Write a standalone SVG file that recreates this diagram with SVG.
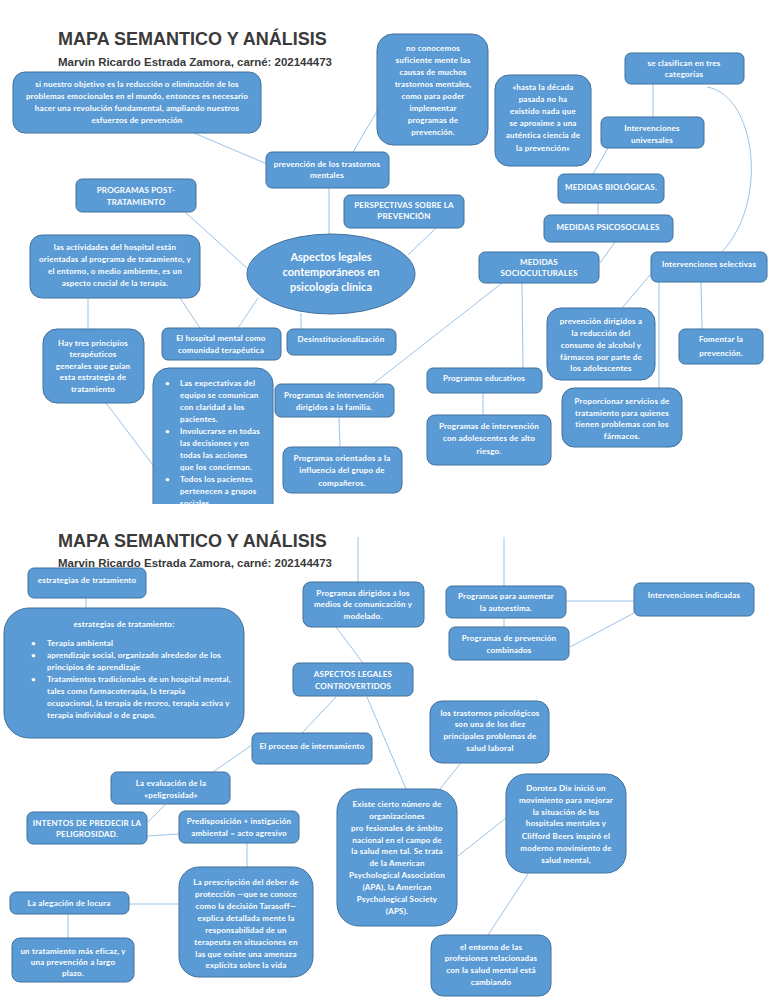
<svg xmlns="http://www.w3.org/2000/svg" width="768" height="1006" viewBox="0 0 768 1006">
<style>
.bg{fill:#fff}
.h1{font-family:"Liberation Sans",Arial,sans-serif;font-weight:700;font-size:18px;fill:#3a3a3a}
.h2{font-family:"Liberation Sans",Arial,sans-serif;font-weight:700;font-size:11.5px;fill:#3a3a3a}
.nd rect,.nd ellipse{fill:#5B9BD5;stroke:#41719C;stroke-width:1}
.nd text{font-family:Lato,"Liberation Sans",sans-serif;font-weight:700;font-size:8px;letter-spacing:0.2px;fill:#fff;text-anchor:middle}
.nd text.l{text-anchor:start}
.nd text.big{font-size:11px;letter-spacing:0}
.cn line,.cn path{stroke:#9DC3E6;stroke-width:1;fill:none}
</style>
<defs>
<clipPath id="pg1"><rect x="0" y="0" width="768" height="504"/></clipPath>
</defs>
<rect class="bg" x="0" y="0" width="768" height="1006"/>
<text class="h1" x="58" y="45">MAPA SEMANTICO Y ANÁLISIS</text>
<text class="h2" x="58" y="66" textLength="274" lengthAdjust="spacingAndGlyphs">Marvin Ricardo Estrada Zamora, carné: 202144473</text>
<text class="h1" x="58" y="547">MAPA SEMANTICO Y ANÁLISIS</text>
<text class="h2" x="58" y="567" textLength="274" lengthAdjust="spacingAndGlyphs">Marvin Ricardo Estrada Zamora, carné: 202144473</text>

<g id="connectors" class="cn">
<line x1="194" y1="133" x2="267" y2="164"/>
<line x1="380" y1="106" x2="353" y2="152"/>
<line x1="329" y1="188" x2="329" y2="234"/>
<line x1="436" y1="228" x2="408" y2="255"/>
<line x1="185" y1="212" x2="248" y2="269"/>
<line x1="180" y1="298" x2="200" y2="328"/>
<line x1="238" y1="328" x2="258" y2="298"/>
<line x1="301" y1="313" x2="301" y2="329"/>
<line x1="88" y1="298" x2="88" y2="329"/>
<line x1="106" y1="403" x2="153" y2="465"/>
<line x1="373" y1="384" x2="502" y2="283"/>
<line x1="339" y1="417" x2="340" y2="447"/>
<line x1="522" y1="283" x2="523" y2="368"/>
<line x1="483" y1="393" x2="483" y2="415"/>
<line x1="615" y1="242" x2="600" y2="263"/>
<line x1="598" y1="203" x2="598" y2="215"/>
<line x1="608" y1="148" x2="593" y2="174"/>
<line x1="653" y1="84" x2="653" y2="117"/>
<path d="M707,87 C755,95 770,200 722,252"/>
<line x1="650" y1="275" x2="622" y2="308"/>
<line x1="659" y1="282" x2="659" y2="388"/>
<line x1="701" y1="282" x2="702" y2="329"/>
<line x1="86" y1="598" x2="86" y2="608"/>
<line x1="358" y1="537" x2="358" y2="582"/>
<line x1="504" y1="537" x2="504" y2="586"/>
<line x1="504" y1="618" x2="504" y2="627"/>
<line x1="566" y1="601" x2="634" y2="601"/>
<line x1="570" y1="647" x2="634" y2="613"/>
<line x1="336" y1="627" x2="363" y2="663"/>
<line x1="336" y1="697" x2="302" y2="733"/>
<line x1="367" y1="697" x2="406" y2="789"/>
<line x1="252" y1="745" x2="213" y2="772"/>
<line x1="165" y1="805" x2="148" y2="822"/>
<line x1="147" y1="836" x2="179" y2="834"/>
<line x1="247" y1="843" x2="247" y2="867"/>
<line x1="129" y1="904" x2="179" y2="904"/>
<line x1="68" y1="914" x2="68" y2="938"/>
<line x1="460" y1="764" x2="440" y2="789"/>
<line x1="458" y1="856" x2="506" y2="818"/>
<line x1="528" y1="874" x2="488" y2="935"/>
</g>

<g id="n-objetivo" class="nd"><rect x="13" y="72" width="248" height="61" rx="12"/>
<text x="137" y="86.5">si nuestro objetivo es la reducción o eliminación de los</text>
<text x="137" y="98.5">problemas emocionales en el mundo, entonces es necesario</text>
<text x="137" y="110.5">hacer una revolución fundamental, ampliando nuestros</text>
<text x="137" y="122.5">esfuerzos de prevención</text></g>

<g id="n-noconocemos" class="nd"><rect x="377" y="34" width="111" height="111" rx="16"/>
<text x="433" y="50.5">no conocemos</text>
<text x="433" y="62.5">suficiente  mente las</text>
<text x="433" y="74.5">causas de muchos</text>
<text x="433" y="86.5">trastornos mentales,</text>
<text x="433" y="98.5">como para poder</text>
<text x="433" y="110.5">implementar</text>
<text x="433" y="122.5">programas de</text>
<text x="433" y="134.5">prevención.</text></g>

<g id="n-hasta" class="nd"><rect x="495" y="75" width="96" height="91" rx="14"/>
<text x="543" y="89.5">«hasta la década</text>
<text x="543" y="101.5">pasada no ha</text>
<text x="543" y="113.5">existido nada que</text>
<text x="543" y="125.5">se aproxime a una</text>
<text x="543" y="138">auténtica ciencia de</text>
<text x="543" y="150.5">la prevención»</text></g>

<g id="n-clasifican" class="nd"><rect x="625" y="53" width="119" height="31" rx="6"/>
<text x="684" y="65.5">se clasifican en tres</text>
<text x="684" y="76.5">categorías</text></g>

<g id="n-universales" class="nd"><rect x="601" y="117" width="103" height="31" rx="6"/>
<text x="652" y="130.5">Intervenciones</text>
<text x="652" y="142.5">universales</text></g>

<g id="n-biologicas" class="nd"><rect x="558" y="174" width="106" height="29" rx="6"/>
<text x="611" y="189.5">MEDIDAS BIOLÓGICAS.</text></g>

<g id="n-psicosociales" class="nd"><rect x="544" y="215" width="129" height="27" rx="6"/>
<text x="608" y="230">MEDIDAS PSICOSOCIALES</text></g>

<g id="n-prevencion" class="nd"><rect x="266" y="152" width="123" height="36" rx="6"/>
<text x="327" y="166.5">prevención de los trastornos</text>
<text x="327" y="177.5">mentales</text></g>

<g id="n-perspectivas" class="nd"><rect x="344" y="195" width="120" height="33" rx="6"/>
<text x="404" y="207.5">PERSPECTIVAS SOBRE LA</text>
<text x="404" y="218.5">PREVENCIÓN</text></g>

<g id="n-centro" class="nd"><ellipse cx="331" cy="274" rx="84" ry="40"/>
<text class="big" x="331" y="261">Aspectos legales</text>
<text class="big" x="331" y="276">contemporáneos en</text>
<text class="big" x="331" y="291">psicología clínica</text></g>

<g id="n-post" class="nd"><rect x="76" y="179" width="120" height="33" rx="6"/>
<text x="136" y="192.5">PROGRAMAS POST-</text>
<text x="136" y="204.5">TRATAMIENTO</text></g>

<g id="n-actividades" class="nd"><rect x="30" y="235" width="170" height="63" rx="12"/>
<text x="115" y="249.5">las actividades del hospital están</text>
<text x="115" y="261.5">orientadas al programa de tratamiento, y</text>
<text x="115" y="273.5">el entorno, o medio ambiente, es un</text>
<text x="115" y="285.5">aspecto crucial de la terapia.</text></g>

<g id="n-principios" class="nd"><rect x="43" y="329" width="101" height="74" rx="14"/>
<text x="93" y="345.5">Hay tres principios</text>
<text x="93" y="357">terapéuticos</text>
<text x="93" y="368.5">generales que guían</text>
<text x="93" y="380">esta estrategia de</text>
<text x="93" y="391.5">tratamiento</text></g>

<g id="n-hospital" class="nd"><rect x="162" y="328" width="119" height="32" rx="6"/>
<text x="221" y="340.5">El hospital mental como</text>
<text x="221" y="352.5">comunidad terapéutica</text></g>

<g id="n-desinst" class="nd"><rect x="287" y="329" width="109" height="26" rx="6"/>
<text x="341" y="341.5">Desinstitucionalización</text></g>

<g id="n-expectativas" class="nd" clip-path="url(#pg1)"><rect x="153" y="368" width="120" height="170" rx="16"/>
<text class="l" x="165" y="385.5">•</text><text class="l" x="180" y="385.5">Las expectativas del</text>
<text class="l" x="180" y="397.5">equipo se comunican</text>
<text class="l" x="180" y="409.5">con claridad a los</text>
<text class="l" x="180" y="421.5">pacientes.</text>
<text class="l" x="165" y="433.5">•</text><text class="l" x="180" y="433.5">Involucrarse en todas</text>
<text class="l" x="180" y="445.5">las decisiones y en</text>
<text class="l" x="180" y="457.5">todas las acciones</text>
<text class="l" x="180" y="469.5">que los conciernan.</text>
<text class="l" x="165" y="481.5">•</text><text class="l" x="180" y="481.5">Todos los pacientes</text>
<text class="l" x="180" y="493.5">pertenecen a grupos</text>
<text class="l" x="180" y="505.5">sociales</text></g>

<g id="n-familia" class="nd"><rect x="275" y="384" width="119" height="33" rx="6"/>
<text x="334" y="397.5">Programas de intervención</text>
<text x="334" y="409.5">dirigidos a la familia.</text></g>

<g id="n-companeros" class="nd"><rect x="283" y="447" width="119" height="46" rx="8"/>
<text x="342" y="460.5">Programas orientados a la</text>
<text x="342" y="473">influencia del grupo de</text>
<text x="342" y="485.5">compañeros.</text></g>

<g id="n-socioculturales" class="nd"><rect x="479" y="252" width="120" height="31" rx="6"/>
<text x="539" y="264.5">MEDIDAS</text>
<text x="539" y="275.5">SOCIOCULTURALES</text></g>

<g id="n-selectivas" class="nd"><rect x="651" y="252" width="116" height="30" rx="6"/>
<text x="709" y="266.5">Intervenciones selectivas</text></g>

<g id="n-alcohol" class="nd"><rect x="547" y="308" width="108" height="72" rx="14"/>
<text x="601" y="323.5">prevención dirigidos a</text>
<text x="601" y="335.5">la reducción del</text>
<text x="601" y="347.5">consumo de alcohol y</text>
<text x="601" y="359.5">fármacos por parte de</text>
<text x="601" y="370.5">los adolescentes</text></g>

<g id="n-fomentar" class="nd"><rect x="679" y="329" width="84" height="35" rx="6"/>
<text x="721" y="341.5">Fomentar la</text>
<text x="721" y="355.5">prevención.</text></g>

<g id="n-educativos" class="nd"><rect x="427" y="368" width="115" height="25" rx="6"/>
<text x="484" y="380.5">Programas educativos</text></g>

<g id="n-riesgo" class="nd"><rect x="427" y="415" width="124" height="50" rx="8"/>
<text x="489" y="428.5">Programas de intervención</text>
<text x="489" y="440.5">con adolescentes de alto</text>
<text x="489" y="453.5">riesgo.</text></g>

<g id="n-servicios" class="nd"><rect x="562" y="388" width="120" height="59" rx="12"/>
<text x="622" y="403.5">Proporcionar servicios de</text>
<text x="622" y="415.5">tratamiento para quienes</text>
<text x="622" y="426.5">tienen problemas con los</text>
<text x="622" y="438.5">fármacos.</text></g>

<g id="n-estrategias" class="nd"><rect x="28" y="568" width="118" height="30" rx="6"/>
<text x="87" y="583">estrategias de tratamiento</text></g>

<g id="n-estrategias-lista" class="nd"><rect x="4" y="608" width="240" height="130" rx="25"/>
<text x="124" y="626.5">estrategias de tratamiento:</text>
<text class="l" x="31" y="645.5">•</text><text class="l" x="47" y="645.5">Terapia ambiental</text>
<text class="l" x="31" y="657.5">•</text><text class="l" x="47" y="657.5">aprendizaje social, organizado alrededor de los</text>
<text class="l" x="47" y="669.5">principios de aprendizaje</text>
<text class="l" x="31" y="681.5">•</text><text class="l" x="47" y="681.5">Tratamientos tradicionales de un hospital mental,</text>
<text class="l" x="47" y="693.5">tales como farmacoterapia, la terapia</text>
<text class="l" x="47" y="705.5">ocupacional, la terapia de recreo, terapia activa y</text>
<text class="l" x="47" y="717.5">terapia individual o de grupo.</text></g>

<g id="n-medios" class="nd"><rect x="303" y="582" width="121" height="45" rx="8"/>
<text x="363" y="595.5">Programas dirigidos a los</text>
<text x="363" y="606.5">medios de comunicación y</text>
<text x="363" y="618.5">modelado.</text></g>

<g id="n-autoestima" class="nd"><rect x="446" y="586" width="120" height="32" rx="6"/>
<text x="506" y="598.5">Programas para aumentar</text>
<text x="506" y="610.5">la autoestima.</text></g>

<g id="n-combinados" class="nd"><rect x="449" y="627" width="120" height="33" rx="6"/>
<text x="509" y="640.5">Programas de prevención</text>
<text x="509" y="652.5">combinados</text></g>

<g id="n-indicadas" class="nd"><rect x="634" y="583" width="120" height="33" rx="6"/>
<text x="694" y="597.5">Intervenciones indicadas</text></g>

<g id="n-controvertidos" class="nd"><rect x="293" y="663" width="120" height="33" rx="6"/>
<text x="353" y="676.5">ASPECTOS LEGALES</text>
<text x="353" y="688.5">CONTROVERTIDOS</text></g>

<g id="n-internamiento" class="nd"><rect x="252" y="733" width="120" height="31" rx="6"/>
<text x="312" y="748.5">El proceso de internamiento</text></g>

<g id="n-evaluacion" class="nd"><rect x="111" y="772" width="119" height="32" rx="6"/>
<text x="171" y="785.5">La evaluación de la</text>
<text x="171" y="797.5">«peligrosidad»</text></g>

<g id="n-intentos" class="nd"><rect x="27" y="812" width="120" height="32" rx="6"/>
<text x="87" y="825.5">INTENTOS DE PREDECIR LA</text>
<text x="87" y="836.5">PELIGROSIDAD.</text></g>

<g id="n-predisposicion" class="nd"><rect x="179" y="811" width="120" height="32" rx="6"/>
<text x="239" y="823.5">Predisposición + instigación</text>
<text x="239" y="835.5">ambiental = acto agresivo</text></g>

<g id="n-tarasoff" class="nd"><rect x="179" y="867" width="134" height="110" rx="20"/>
<text x="246" y="884.5">La prescripción del deber de</text>
<text x="246" y="897">protección —que se conoce</text>
<text x="246" y="909">como la decisión Tarasoff—</text>
<text x="246" y="921">explica detallada  mente la</text>
<text x="246" y="933">responsabilidad de un</text>
<text x="246" y="945">terapeuta en situaciones en</text>
<text x="246" y="956.5">las que existe una amenaza</text>
<text x="246" y="968">explícita sobre la vida</text></g>

<g id="n-locura" class="nd"><rect x="10" y="892" width="119" height="22" rx="6"/>
<text x="69" y="905.5">La alegación de locura</text></g>

<g id="n-eficaz" class="nd"><rect x="12" y="938" width="122" height="44" rx="8"/>
<text x="73" y="953.5">un tratamiento más eficaz, y</text>
<text x="73" y="964.5">una prevención a largo</text>
<text x="73" y="975.5">plazo.</text></g>

<g id="n-laboral" class="nd"><rect x="430" y="701" width="119" height="62" rx="12"/>
<text x="490" y="715.5">los trastornos psicológicos</text>
<text x="490" y="726.5">son una de los diez</text>
<text x="490" y="738.5">principales problemas de</text>
<text x="490" y="750.5">salud laboral</text></g>

<g id="n-organizaciones" class="nd"><rect x="337" y="789" width="120" height="137" rx="22"/>
<text x="397" y="806.5">Existe cierto número de</text>
<text x="397" y="818.5">organizaciones</text>
<text x="397" y="830.5">pro  fesionales de ámbito</text>
<text x="397" y="842.5">nacional en el campo de</text>
<text x="397" y="853.5">la salud men  tal. Se trata</text>
<text x="397" y="865.5">de la American</text>
<text x="397" y="877.5">Psychological Association</text>
<text x="397" y="889.5">(APA), la American</text>
<text x="397" y="901.5">Psychological Society</text>
<text x="397" y="913.5">(APS).</text></g>

<g id="n-dorotea" class="nd"><rect x="506" y="774" width="120" height="99" rx="20"/>
<text x="566" y="790.5">Dorotea Dix inició un</text>
<text x="566" y="802.5">movimiento para mejorar</text>
<text x="566" y="814.5">la situación de los</text>
<text x="566" y="825.5">hospitales mentales y</text>
<text x="566" y="838.5">Clifford Beers inspiró el</text>
<text x="566" y="850.5">moderno movimiento de</text>
<text x="566" y="862.5">salud mental,</text></g>

<g id="n-entorno" class="nd"><rect x="431" y="935" width="120" height="61" rx="12"/>
<text x="491" y="949.5">el entorno de las</text>
<text x="491" y="960.5">profesiones relacionadas</text>
<text x="491" y="972.5">con la salud mental está</text>
<text x="491" y="984.5">cambiando</text></g>
</svg>
